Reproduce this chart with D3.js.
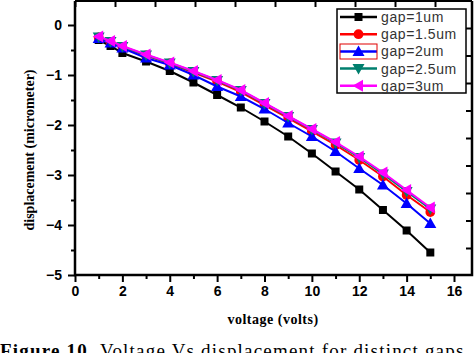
<!DOCTYPE html>
<html><head><meta charset="utf-8">
<script src="https://cdn.jsdelivr.net/npm/d3@7"></script>
<style>body{margin:0;background:#fff}svg{display:block}</style>
</head><body><svg id="c" width="474" height="353"></svg>
<script>
const voltage = [1, 1.5, 2, 3, 4, 5, 6, 7, 8, 9, 10, 11, 12, 13, 14, 15];
const gap1   = [-0.30,-0.42,-0.56,-0.73,-0.92,-1.15,-1.40,-1.65,-1.93,-2.23,-2.57,-2.93,-3.29,-3.70,-4.11,-4.55];
const gap15  = [-0.25,-0.34,-0.44,-0.61,-0.77,-0.95,-1.13,-1.34,-1.60,-1.86,-2.13,-2.40,-2.70,-3.03,-3.40,-3.74];
const gap2   = [-0.27,-0.36,-0.46,-0.66,-0.80,-1.00,-1.23,-1.43,-1.68,-1.96,-2.23,-2.53,-2.87,-3.20,-3.57,-3.97];
const gap25  = [-0.24,-0.33,-0.43,-0.60,-0.76,-0.93,-1.11,-1.31,-1.57,-1.83,-2.09,-2.36,-2.65,-2.98,-3.33,-3.68];
const gap3   = [-0.23,-0.32,-0.42,-0.59,-0.75,-0.92,-1.10,-1.30,-1.56,-1.82,-2.08,-2.34,-2.63,-2.95,-3.30,-3.65];
const seriesNames = ["gap=1um","gap=1.5um","gap=2um","gap=2.5um","gap=3um"];
const xTicks = [0,2,4,6,8,10,12,14,16];
const yTicks = [0,-1,-2,-3,-4,-5];

const series = [
  {name: seriesNames[0], values: gap1,  color: "#000000", shape: "square"},
  {name: seriesNames[1], values: gap15, color: "#ff0000", shape: "circle"},
  {name: seriesNames[2], values: gap2,  color: "#0000ff", shape: "triUp"},
  {name: seriesNames[3], values: gap25, color: "#007f6e", shape: "triDown"},
  {name: seriesNames[4], values: gap3,  color: "#ff00ff", shape: "triLeft"}
];

const svg = d3.select("#c");
const x = d3.scaleLinear().domain([0,16]).range([75,454]);
const y = d3.scaleLinear().domain([-5,0]).range([275,25]);
const xMax = x.invert(472), yMax = y.invert(1);

function shapePath(shape, s){
  if(shape==="square") return d3.symbol(d3.symbolSquare, s*s)();
  if(shape==="circle") return d3.symbol(d3.symbolCircle, s*s*0.75)();
  const h = s*0.6;
  if(shape==="triUp") return `M0,${-h}L${h},${h*0.75}L${-h},${h*0.75}Z`;
  if(shape==="triDown") return `M0,${h}L${h},${-h*0.75}L${-h},${-h*0.75}Z`;
  if(shape==="triLeft") return `M${-h},0L${h*0.75},${-h}L${h*0.75},${h}Z`;
}

// axes frame
const g = svg.append("g");
// minor ticks
const xMinor = d3.range(1,17,2);
g.append("g").attr("transform",`translate(0,${y(-5)})`)
  .call(d3.axisBottom(x).tickValues(xMinor).tickSize(4).tickFormat(""))
  .call(a=>a.select(".domain").remove()).selectAll("line").attr("stroke-width",2);
const yMinor = d3.range(-4.5,0.5,1);
g.append("g").attr("transform",`translate(${x(0)},0)`)
  .call(d3.axisLeft(y).tickValues(yMinor).tickSize(4).tickFormat(""))
  .call(a=>a.select(".domain").remove()).selectAll("line").attr("stroke-width",2);

const xa = g.append("g").attr("transform",`translate(0,${y(-5)})`)
  .call(d3.axisBottom(x).tickValues(xTicks).tickSize(7).tickPadding(4).tickFormat(d3.format("d")));
xa.select(".domain").remove();
xa.selectAll("line").attr("stroke-width",2);
xa.selectAll("text").attr("font-family","Arial, Liberation Sans, sans-serif").attr("font-weight","bold").attr("font-size",14).attr("fill","#000");

const ya = g.append("g").attr("transform",`translate(${x(0)},0)`)
  .call(d3.axisLeft(y).tickValues(yTicks).tickSize(7).tickPadding(6).tickFormat(d3.format("d")));
ya.select(".domain").remove();
ya.selectAll("line").attr("stroke-width",2);
ya.selectAll("text").attr("font-family","Arial, Liberation Sans, sans-serif").attr("font-weight","bold").attr("font-size",14).attr("fill","#000");

// top and right ticks (inward)
const topTicks = d3.range(0,10).map(i=>x.invert(75+40*i)).filter(v=>v<xMax-0.3);
g.append("g").attr("transform",`translate(0,${y(yMax)})`)
  .call(d3.axisTop(x).tickValues(topTicks).tickSize(-6).tickFormat(""))
  .call(a=>a.select(".domain").remove()).selectAll("line").attr("stroke-width",2);
const rightTicks = d3.range(0,9).map(i=>y.invert(28+27.5*i));
g.append("g").attr("transform",`translate(${x(xMax)},0)`)
  .call(d3.axisRight(y).tickValues(rightTicks).tickSize(-6).tickFormat(""))
  .call(a=>a.select(".domain").remove()).selectAll("line").attr("stroke-width",2);

// frame
g.append("path").attr("d",`M${x(0)},${y(yMax)}V${y(-5)}H${x(xMax)}V${y(yMax)}`)
  .attr("fill","none").attr("stroke","#000").attr("stroke-width",2.5);
g.append("line").attr("x1",x(0)).attr("x2",x(xMax)).attr("y1",y(yMax)).attr("y2",y(yMax)).attr("stroke","#000").attr("stroke-width",2);

// data
const line = d3.line().x((d,i)=>x(voltage[i])).y(d=>y(d));
series.forEach(s=>{
  const sg = svg.append("g");
  sg.append("path").attr("d",line(s.values)).attr("fill","none").attr("stroke",s.color).attr("stroke-width",2);
  sg.selectAll("path.m").data(s.values).join("path").attr("class","m")
    .attr("transform",(d,i)=>`translate(${x(voltage[i])},${y(d)})`)
    .attr("d",shapePath(s.shape, s.shape==="square"?8:10)).attr("fill",s.color);
});

// legend
const lg = svg.append("g");
lg.append("rect").attr("x",337).attr("y",9).attr("width",129).attr("height",84)
  .attr("fill","#fff").attr("stroke","#000").attr("stroke-width",1.5);
series.forEach((s,i)=>{
  const yy = 17 + i*17.2;
  lg.append("line").attr("x1",340).attr("x2",377).attr("y1",yy).attr("y2",yy).attr("stroke",s.color).attr("stroke-width",2.5);
  lg.append("path").attr("transform",`translate(358.5,${yy})`).attr("d",shapePath(s.shape, s.shape==="square"?8:10)).attr("fill",s.color);
  lg.append("text").attr("x",381).attr("y",yy+5).text(s.name)
    .attr("font-family","Arial, Liberation Sans, sans-serif").attr("font-size",14).attr("letter-spacing",0.6).attr("fill","#333");
});
lg.append("rect").attr("x",340).attr("y",44).attr("width",37).attr("height",15).attr("fill","none").attr("stroke","#e00000").attr("stroke-width",1);

// axis titles
svg.append("text").attr("transform",`translate(34,150) rotate(-90)`).attr("text-anchor","middle")
  .attr("font-family","Liberation Serif, Times New Roman, serif").attr("font-weight","bold").attr("font-size",14)
  .text("displacement (micrometer)");
svg.append("text").attr("x",273).attr("y",324).attr("text-anchor","middle")
  .attr("font-family","Liberation Serif, Times New Roman, serif").attr("font-weight","bold").attr("font-size",14).attr("letter-spacing",0.5)
  .text("voltage (volts)");

// caption
const cap = svg.append("text").attr("x",0).attr("y",357)
  .attr("font-family","Liberation Serif, Times New Roman, serif").attr("font-size",19).attr("letter-spacing",1.2);
cap.append("tspan").attr("font-weight","bold").text("Figure 10. ");
cap.append("tspan").text("Voltage Vs displacement for distinct gaps");
</script></body></html>
